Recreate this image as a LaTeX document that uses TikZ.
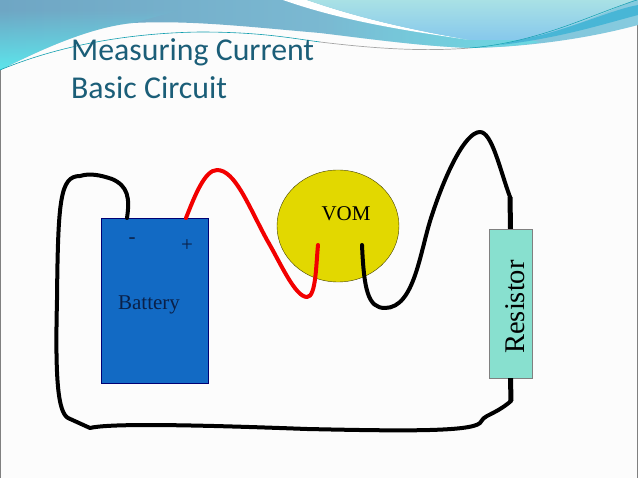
\documentclass[tikz,border=0pt]{standalone}
\usepackage{fontspec}
\setmainfont{Liberation Serif}
\newfontfamily\titlefont{Carlito}
\usetikzlibrary{shapes.geometric,fadings}
\definecolor{titleblue}{HTML}{1B5E78}
\definecolor{batteryblue}{HTML}{126AC4}
\definecolor{vomyellow}{HTML}{E2D800}
\definecolor{resistorgreen}{HTML}{88E0CF}
\definecolor{batterytext}{HTML}{0A2048}
\definecolor{swooshtop}{HTML}{6FA6C4}
\definecolor{swooshlow}{HTML}{5CE6EC}
\definecolor{bandtop}{HTML}{86CBDF}
\definecolor{bandlow}{HTML}{6AD8E2}
\definecolor{skytop}{HTML}{A9E1E5}
\definecolor{skylow}{HTML}{86C8EC}
\definecolor{rimblue}{HTML}{48B6D6}
\tikzset{
    titletext/.style={anchor=base west,inner sep=0,text=titleblue,font=\titlefont\fontsize{31.8}{32}\selectfont},
    labeltext/.style={inner sep=0,font=\fontsize{21}{21}\selectfont},
    wire/.style={line width=4pt,line cap=round,line join=round},
    lead/.style={black,line width=5pt}
}

\begin{document}
\begin{tikzpicture}[x=1pt,y=-1pt]
        \useasboundingbox (0,0) rectangle (638,478);
        \fill [white!99!black] (0,0) rectangle (638,478);
        \draw [gray,line width=1pt] (0,68)--(0,478);
        \draw [gray,line width=1.5pt] (637.5,25)--(637.5,478);
        \shade [left color=swooshtop,right color=bandtop] (0,0)--(638,0)--(638,25) .. controls (590,38) and (530,47) .. (470,48) .. controls (420,46) and (370,39) .. (320,33) .. controls (250,27) and (190,20) .. (133,23) .. controls (90,27) and (40,50) .. (0,70)--cycle;
        \fill [bandlow,path fading=west] (320,33) .. controls (370,39) and (420,46) .. (470,48) .. controls (500,47) and (520,46) .. (540,42)--(470,30)--(320,14)--cycle;
        \fill [swooshlow,path fading=north] (0,10)--(180,10)--(133,23) .. controls (90,27) and (40,50) .. (0,70)--cycle;
        \fill [white] (283,0) .. controls (340,20) and (400,30) .. (470,40) .. controls (400,28) and (350,15) .. (307,0)--cycle;
        \shade [top color=skytop,bottom color=skylow] (307,0) .. controls (350,15) and (400,28) .. (470,40)--(520,40) .. controls (570,30) and (610,10) .. (634,0)--cycle;
        \fill [rimblue] (520,40) .. controls (570,30) and (610,10) .. (638,5)--(638,15) .. controls (600,25) and (560,38) .. (500,45)--cycle;
        \draw [titleblue!60!cyan,line width=0.6pt] (0,70) .. controls (60,45) and (130,33) .. (200,32) .. controls (260,32) and (290,38) .. (320,42);
        \draw [gray!70!white,line width=0.7pt] (320,42) .. controls (370,48) and (420,52) .. (470,48);
        \draw [titleblue!60!cyan,line width=0.5pt] (470,48) .. controls (540,42) and (590,15) .. (637,0);
        \node (measuring) [titletext] at (71,60.5) {Measuring Current};
        \node (basic) [titletext] at (71,98.5) {Basic Circuit};
        \node (battery) [draw=blue!45!black,fill=batteryblue,minimum width=107pt,minimum height=165pt,inner sep=0] at (154.5,300.5) {};
        \node (vom) [ellipse,draw=black!70!vomyellow,fill=vomyellow,minimum width=122pt,minimum height=112pt,inner sep=0] at (338,226) {};
        \node (resistor) [draw=gray,fill=resistorgreen,minimum width=43pt,minimum height=149pt,inner sep=0] at (510.5,303.5) {};
        \node (vomlabel) [labeltext] at (346,214) {VOM};
        \node (minus) [labeltext,text=batterytext] at (132,241) {-};
        \node (plus) [labeltext,text=batterytext] at (187,246) {+};
        \node (batterylabel) [labeltext,text=batterytext] at (149,305) {Battery};
        \node (resistorlabel) [labeltext,rotate=90,font=\fontsize{28.5}{28.5}\selectfont] at (515,307) {Resistor};
        \coordinate (bminus) at (127,218);
        \coordinate (bplus) at (186,218);
        \coordinate (vomred) at (318,245);
        \coordinate (vomblack) at (362,245);
        \coordinate (resup) at (510,197);
        \coordinate (resdown) at (511,401);
        \draw [black,wire] (bminus) .. controls (130,198) and (128,186) .. (112,179) .. controls (100,175) and (90,173) .. (80,176) .. controls (60,176) and (58,200) .. (57,300) .. controls (55,380) and (58,412) .. (68,418)--(90,428) .. controls (110,423) and (200,425) .. (307,429) .. controls (400,431) and (470,432) .. (480,423) .. controls (483,419) and (484,417) .. (487,416) .. controls (495,412) and (503,408) .. (resdown);
        \draw [red!95!black,wire] (bplus) .. controls (195,195) and (205,170) .. (217,170) .. controls (235,170) and (248,205) .. (267,240) .. controls (280,262) and (295,297) .. (307,297) .. controls (316,297) and (316,265) .. (vomred);
        \draw [black,wire] (vomblack) .. controls (364,290) and (368,308) .. (385,308) .. controls (415,308) and (420,250) .. (432,215) .. controls (445,175) and (465,132) .. (480,132) .. controls (492,132) and (500,170) .. (resup);
        \draw [lead] (resup)--(resistor.north);
        \draw [lead] (resistor.south)--(resdown);
    \end{tikzpicture}
\end{document}
